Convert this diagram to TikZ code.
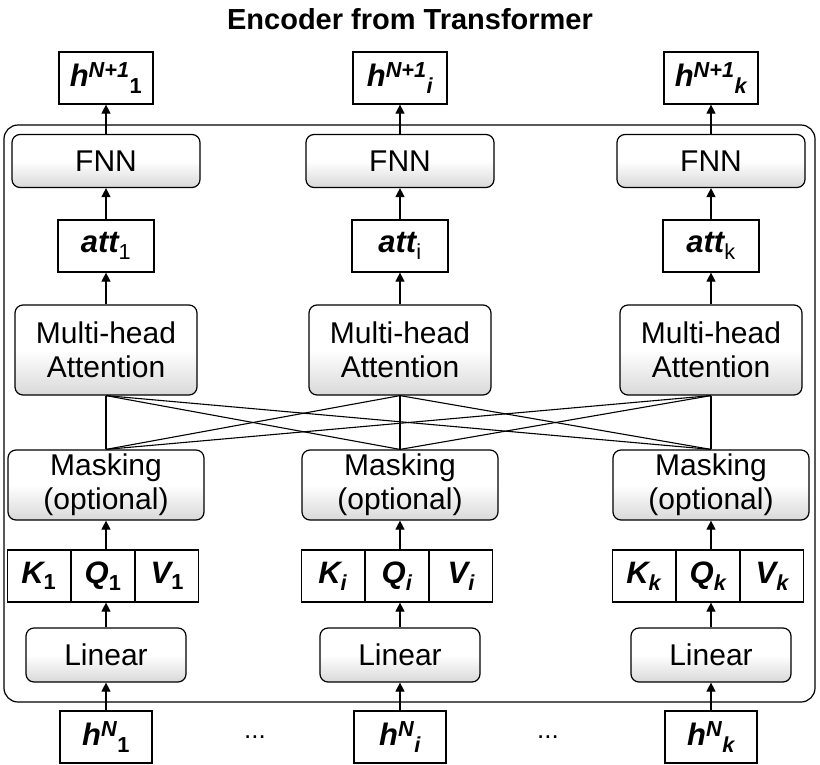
\documentclass[tikz,border=0pt]{standalone}
\usepackage{fontspec}
\setmainfont{Liberation Sans}
\usetikzlibrary{arrows.meta,positioning}

\tikzset{
  blk/.style={draw,rounded corners=8pt,top color=white,bottom color=gray!30,
    middle color=white,inner sep=0pt,align=center,font=\fontsize{30}{34}\selectfont,line width=1.2pt},
  vec/.style={draw,fill=white,inner sep=0pt,minimum height=52pt,line width=1.2pt,
    font=\fontsize{31}{34}\selectfont\bfseries\itshape},
  arr/.style={-{Triangle[length=9pt,width=9pt]},line width=1.2pt},
  lnk/.style={line width=1.1pt}
}

\begin{document}
\begin{tikzpicture}[x=1pt,y=-1pt]
	\useasboundingbox (0,0) rectangle (820,764);
	\node[font=\fontsize{29}{31}\selectfont\bfseries] (title) at (410,19) {Encoder from Transformer};
	\draw[rounded corners=14pt,line width=1.2pt] (4,125) rectangle (815,702);

	\foreach \c/\x/\s/\t in {1/106/1/\upshape 1, 2/400/i/i, 3/711/k/k} {
		\node[vec,minimum width=94pt] (out\c) at (\x,78) {h\textsuperscript{N+1}\textsubscript{\t}};
		\node[blk,minimum width=188pt,minimum height=53pt] (fnn\c) at (\x,161) {FNN};
		\node[vec,minimum width=96pt] (att\c) at (\x,246) {att\textsubscript{\upshape\mdseries\s}};
		\node[blk,minimum width=182pt,minimum height=90pt] (mha\c) at (\x,350) {Multi-head\\Attention};
		\node[blk,minimum width=196pt,minimum height=70pt] (mask\c) at (\x,485) {Masking\\(optional)};
		\node[vec,minimum width=63pt] (q\c) at (\x-3,576) {Q\textsubscript{\t}};
		\node[vec,minimum width=63pt,left=0pt of q\c] (k\c) {K\textsubscript{\t}};
		\node[vec,minimum width=63pt,right=0pt of q\c] (v\c) {V\textsubscript{\t}};
		\node[blk,minimum width=160pt,minimum height=54pt] (lin\c) at (\x,655) {Linear};
		\node[vec,minimum width=92pt] (in\c) at (\x,737) {h\textsuperscript{N}\textsubscript{\t}};

		\draw[arr] (in\c) -- (lin\c);
		\draw[arr] (lin\c) -- (lin\c|-q\c.south);
		\draw[arr] (q\c.north-|mask\c) -- (mask\c);
		\draw[arr] (mha\c) -- (att\c);
		\draw[arr] (att\c) -- (fnn\c);
		\draw[arr] (fnn\c) -- (out\c);
	}
	\foreach \a in {1,2,3}
		\foreach \b in {1,2,3}
			\draw[lnk] (mask\a.north) -- (mha\b.south);

	\node[font=\fontsize{26}{28}\selectfont] (dotsA) at (255,737) {...};
	\node[font=\fontsize{26}{28}\selectfont] (dotsB) at (548,737) {...};
\end{tikzpicture}
\end{document}
